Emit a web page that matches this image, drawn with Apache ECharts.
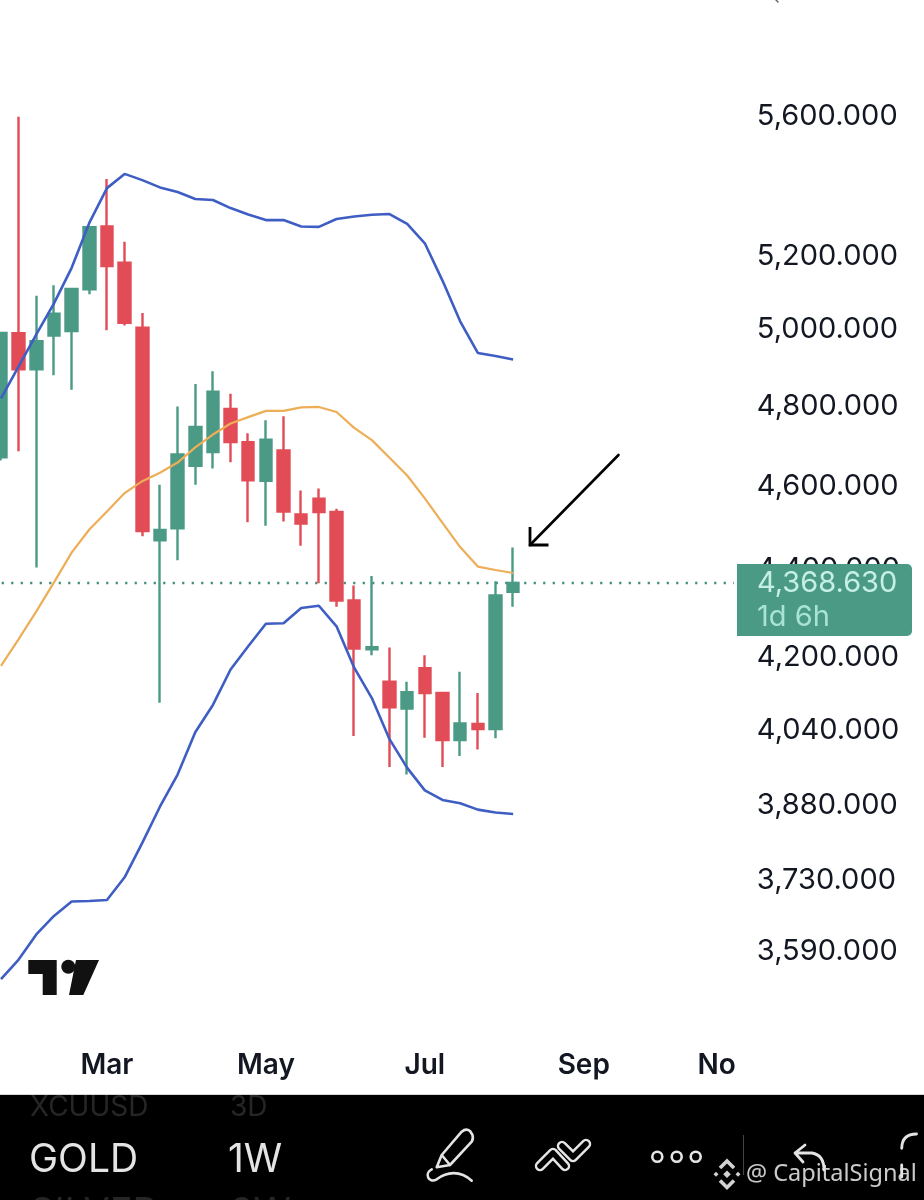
<!DOCTYPE html>
<html>
<head>
<meta charset="utf-8">
<style>html,body{margin:0;padding:0;background:#fff}#c{width:924px;height:1200px}</style>
<script src="https://cdn.jsdelivr.net/npm/echarts@6/dist/echarts.min.js"></script>
</head>
<body>
<div id="c"></div>
<script>
const monthLabels = ['','','','','','','Mar','','','','','','','','','May','','','','','','','','','Jul','','','','','','','','','Sep','','','','','','','','No'];
const opens  = [4671,4990,4895,4984,4996,5108,5282,5181,5005,4469,4498,4650,4684,4793,4709,4613,4688,4531,4569,4537,4328,4217,4145,4086,4175,4120,4018,4053,4042,4348];
const closes = [4991,4895,4969,5042,5109,5280,5172,5018,4491,4494,4678,4747,4837,4709,4614,4715,4538,4509,4537,4328,4219,4222,4089,4122,4120,4018,4054,4042,4340,4368.63];
const lows   = [4663,4686,4405,4880,4842,5095,4998,5011,4479,4099,4422,4603,4643,4659,4512,4504,4514,4456,4368,4314,4027,4204,3961,3945,4023,3961,3984,3998,4022,4314];
const highs  = [4993,5600,5091,5119,5110,5281,5417,5239,5044,4603,4799,4857,4890,4832,4731,4764,4774,4589,4594,4545,4363,4385,4221,4145,4204,4121,4167,4120,4373,4452];
const upperBand = [4820,4903,4987,5070,5167,5292,5391,5432,5414,5393,5380,5360,5357,5334,5316,5300,5300,5282,5281,5303,5310,5315,5317,5289,5235,5132,5022,4938,4930,4921];
const midBand   = [4180,4240,4303,4370,4440,4495,4538,4583,4612,4633,4658,4696,4728,4756,4772,4788,4788,4797,4798,4785,4745,4714,4670,4626,4570,4511,4453,4407,4399,4392];
const lowerBand = [3538,3575,3623,3659,3687,3688,3690,3735,3804,3878,3945,4035,4094,4172,4224,4275,4276,4311,4316,4269,4176,4109,4020,3959,3912,3892,3885,3872,3866,3863];
const priceTicks = [3590,3730,3880,4040,4200,4400,4600,4800,5000,5200,5600];
const currentPrice = 4368.63;
const priceText = '4,368.630';
const countdownText = '1d 6h';

const GREEN='#4A9A85', RED='#E24C56', BLUE='#3F5EC4', ORANGE='#EDAE57';
const SANS='Inter, "Noto Sans", sans-serif';
const candles = opens.map((o,i)=>[o,closes[i],lows[i],highs[i]]);

const white='#E4E4E4';
const stroke=(c,w)=>({fill:null,stroke:c,lineWidth:w,lineCap:'round',lineJoin:'round'});
const txt=(x,y,t,size,fill,extra)=>({type:'text',z:50,silent:true,style:Object.assign({x,y,text:t,font:'400 '+size+'px '+SANS,fill,textAlign:'left',textVerticalAlign:'middle',textBaseline:'middle'},extra||{})});
let shapeCount=0;
const path=(d,st,z)=>{const name='svgShape'+(shapeCount++);echarts.graphic.registerShape(name,echarts.graphic.extendPath(d,{}));return {type:name,z:z||50,silent:true,style:st};};
const poly=(pts,st,z)=>({type:'polyline',z:z||50,silent:true,shape:{points:pts},style:st});

const graphics=[
  // TradingView mark
  path('M28.3 960 L56.7 960 L56.7 995 L42.7 995 L42.7 974 L28.3 974 Z',{fill:'#111',stroke:null},20),
  {type:'circle',z:20,silent:true,shape:{cx:68.3,cy:966.7,r:7},style:{fill:'#111'}},
  path('M76 960 L99 960 L83.3 995 L69 995 Z',{fill:'#111',stroke:null},20),
  // annotation arrow
  poly([[618.5,455],[530,545]],stroke('#000',2.6),20),
  poly([[530,527],[530,545],[548.5,545]],{fill:null,stroke:'#000',lineWidth:2.8,lineCap:'butt',lineJoin:'miter'},20),
  // small mark at the top edge
  poly([[776,0],[778,2]],stroke('#666',1.5),20),
  // price tag
  {type:'rect',z:30,silent:true,shape:{x:737,y:564,width:175,height:72,r:[0,5,5,0]},style:{fill:GREEN}},
  txt(757,583.5,priceText,29,'#C6F0E4',{}),
  txt(757,617,countdownText,29,'#A9E3D3',{}),
  // bottom toolbar
  {type:'rect',z:40,silent:true,shape:{x:0,y:1095,width:924,height:105},style:{fill:'#000'}},
  {type:'rect',z:41,silent:true,shape:{x:0,y:1094,width:924,height:1},style:{fill:'#D8D8D8'}},
  txt(30,1108,'XCUUSD',28,'#262626'),
  {type:'rect',z:51,silent:true,shape:{x:186,y:1095,width:30,height:30},style:{fill:'#000'}},
  txt(230,1108,'3D',28,'#262626'),
  txt(29,1160,'GOLD',39,white),
  txt(228,1160,'1W',39,white),
  txt(30,1214,'SILVER',38,'#262626'),
  txt(230,1214,'3W',38,'#262626'),
  // pencil
  path('M436.7 1167.3 L441.7 1155 L461.7 1131.7 Q466 1128 470 1131 L472.5 1135 Q473.5 1139 471.7 1141.7 L450 1165 Z M441.7 1155 L450 1165',stroke(white,2.6)),
  path('M471.7 1180.7 C460 1170 446.7 1171.7 436.7 1179.3 C428.3 1184 424 1173 431.7 1169.3',stroke(white,2.6)),
  // chevrons
  poly([[540,1166],[553,1153],[565,1166]],stroke(white,10.5),50),
  poly([[540,1166],[553,1153],[565,1166]],stroke('#000',5.5),51),
  poly([[562,1146],[573,1157],[586,1144]],stroke(white,10.5),52),
  poly([[562,1146],[573,1157],[586,1144]],stroke('#000',5.5),53),
  // dots
  ...[657.3,676.7,695.7].map(cx=>({type:'circle',z:50,silent:true,shape:{cx,cy:1156.7,r:5},style:{fill:null,stroke:white,lineWidth:2.6}})),
  // separator, undo, right icon
  {type:'rect',z:50,silent:true,shape:{x:743,y:1135,width:1,height:40},style:{fill:'#444'}},
  path('M805 1145 L795 1153 L803 1162 M795 1153 L812 1153 Q824 1155 824 1170',stroke(white,2.8)),
  path('M916.5 1134 Q902 1134 901.7 1148.3 M901.7 1165 L901.7 1177',stroke(white,2.8)),
  // watermark
  path('M727 1170.5 L730.8 1174.3 L727 1178.1 L723.2 1174.3 Z M716 1171.8 L718.5 1174.3 L716 1176.8 L713.5 1174.3 Z M738 1171.8 L740.5 1174.3 L738 1176.8 L735.5 1174.3 Z',{fill:'#D2D2D2'},60),
  path('M720 1168 L727 1161 L734 1168 M720 1180.5 L727 1187.5 L734 1180.5',{fill:null,stroke:'#D2D2D2',lineWidth:3.6,lineCap:'butt',lineJoin:'miter'},60),
  {type:'text',z:60,silent:true,style:{x:746,y:1174,text:'@ CapitalSignal',font:'400 23.5px "Noto Sans", sans-serif',fill:'rgba(225,225,225,0.9)',textAlign:'left',textVerticalAlign:'middle',textBaseline:'middle'}}
];

const lineSeries=(data,color,width)=>({type:'line',data,showSymbol:false,symbol:'none',smooth:false,z:5,silent:true,lineStyle:{color,width},itemStyle:{color}});

const chart=echarts.init(document.getElementById('c'),null,{width:924,height:1200,renderer:'canvas'});
chart.setOption({
  animation:false,
  backgroundColor:'#fff',
  tooltip:{show:false},
  legend:{show:false},
  grid:{left:-7.83,width:741.7,top:0,height:1040,containLabel:false,outerBoundsMode:'none'},
  xAxis:{
    type:'category',data:monthLabels,boundaryGap:true,
    axisLine:{show:false},axisTick:{show:false},splitLine:{show:false},
    axisLabel:{
      interval:0,margin:12,fontFamily:SANS,fontSize:28,fontWeight:600,color:'#131722',
      formatter:v=>v==='No'?'{n|No}':v,
      rich:{n:{fontFamily:SANS,fontSize:28,fontWeight:600,color:'#131722',padding:[0,17,0,0]}}
    }
  },
  yAxis:{
    type:'log',logBase:10,position:'right',min:3425,max:5959,
    axisLine:{show:false},axisTick:{show:false},splitLine:{show:false},minorTick:{show:false},
    axisLabel:{
      customValues:priceTicks,inside:false,margin:23,fontFamily:SANS,fontSize:29,color:'#131722',
      padding:[0,0,5,0],
      formatter:v=>Number(v).toLocaleString('en-US',{minimumFractionDigits:3,maximumFractionDigits:3})
    }
  },
  graphic:{elements:graphics},
  series:[
    {type:'candlestick',data:candles,barWidth:12,z:3,silent:true,
     itemStyle:{color:GREEN,color0:RED,borderColor:GREEN,borderColor0:RED,borderWidth:2.4},
     markLine:{silent:true,symbol:'none',animation:false,label:{show:false},z:2,
       lineStyle:{color:'#3F8F7A',width:2.4,type:[2.2,7.3]},data:[{yAxis:currentPrice}]}},
    lineSeries(upperBand,BLUE,2.6),
    lineSeries(midBand,ORANGE,2.2),
    lineSeries(lowerBand,BLUE,2.6)
  ]
});
</script>
</body>
</html>
